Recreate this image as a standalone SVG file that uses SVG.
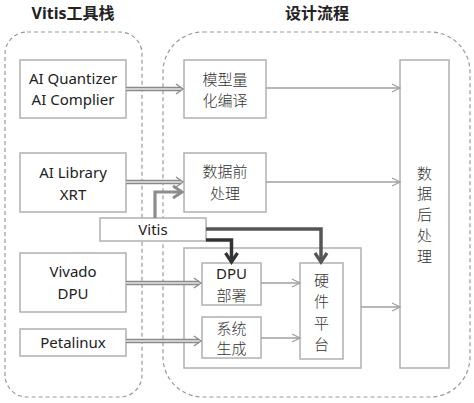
<svg xmlns="http://www.w3.org/2000/svg" width="474" height="403" viewBox="0 0 474 403">
<defs>
<style>
.bg{fill:#fff}
.dash{fill:none;stroke:#9a9a9a;stroke-width:1.2;stroke-dasharray:4 3}
.box{fill:#fff;stroke:#b0b0b0;stroke-width:1.5}
.en{font-family:"Noto Sans","Liberation Sans",sans-serif;font-size:15px;fill:#222;text-anchor:middle}
.cn{font-family:"Noto Sans CJK SC","Noto Sans",sans-serif;font-size:15px;fill:#333;text-anchor:middle;font-weight:300}
.title{font-family:"Noto Sans","Noto Sans CJK SC",sans-serif;font-size:16px;font-weight:bold;fill:#222;text-anchor:middle}
.thin{fill:none;stroke:#a0a0a0;stroke-width:1.3;marker-end:url(#chev)}
.dblo{fill:none;stroke:#8a8a8a;stroke-width:4.5}
.dbli{fill:none;stroke:#e6e6e6;stroke-width:1.6}
.gray{fill:none;stroke:#8c8c8c;stroke-width:3.2;marker-end:url(#chevg)}
.dark{fill:none;stroke:#333;stroke-width:3.5;marker-end:url(#chevd)}
.dark2{fill:none;stroke:#555;stroke-width:3.5;marker-end:url(#chevd2)}
</style>
<marker id="chev" markerUnits="userSpaceOnUse" markerWidth="12" markerHeight="12" refX="9" refY="5" orient="auto">
<path d="M1,1 L9,5 L1,9" fill="none" stroke="#a0a0a0" stroke-width="1.3"/>
</marker>
<marker id="chevg" markerUnits="userSpaceOnUse" markerWidth="16" markerHeight="16" refX="12" refY="8" orient="auto">
<path d="M3,2 L12,8 L3,14" fill="none" stroke="#8c8c8c" stroke-width="3"/>
</marker>
<marker id="chevd" markerUnits="userSpaceOnUse" markerWidth="16" markerHeight="16" refX="12" refY="8" orient="auto">
<path d="M3,2 L12,8 L3,14" fill="none" stroke="#333" stroke-width="3.2"/>
</marker>
<marker id="chevd2" markerUnits="userSpaceOnUse" markerWidth="16" markerHeight="16" refX="12" refY="8" orient="auto">
<path d="M3,2 L12,8 L3,14" fill="none" stroke="#555" stroke-width="3.2"/>
</marker>
</defs>
<rect class="bg" x="0" y="0" width="474" height="403"/>

<g id="titles">
<text class="title" x="73" y="19">Vitis工具栈</text>
<text class="title" x="317" y="19">设计流程</text>
</g>

<g id="groups">
<rect class="dash" x="5" y="32" width="137" height="365" rx="22"/>
<rect class="dash" x="163" y="32" width="307" height="365" rx="40"/>
</g>

<g id="node-aiq">
<rect class="box" x="20" y="60" width="106" height="58"/>
<text class="en" x="73" y="84">AI Quantizer</text>
<text class="en" x="73" y="105">AI Complier</text>
</g>
<g id="node-ailib">
<rect class="box" x="20" y="153" width="106" height="59"/>
<text class="en" x="73" y="178">AI Library</text>
<text class="en" x="73" y="200">XRT</text>
</g>
<g id="node-vivado">
<rect class="box" x="20" y="253" width="106" height="59"/>
<text class="en" x="73" y="277">Vivado</text>
<text class="en" x="73" y="299">DPU</text>
</g>
<g id="node-petalinux">
<rect class="box" x="20" y="329" width="106" height="27"/>
<text class="en" x="73" y="348">Petalinux</text>
</g>

<g id="node-model">
<rect class="box" x="184" y="60" width="82" height="58"/>
<text class="cn" x="225" y="85">模型量</text>
<text class="cn" x="225" y="106">化编译</text>
</g>
<g id="node-pre">
<rect class="box" x="184" y="153" width="82" height="59"/>
<text class="cn" x="225" y="177">数据前</text>
<text class="cn" x="225" y="199">处理</text>
</g>
<g id="node-post">
<rect class="box" x="400" y="60" width="49" height="308"/>
<text class="cn" x="424.5" y="179">数</text>
<text class="cn" x="424.5" y="199">据</text>
<text class="cn" x="424.5" y="220">后</text>
<text class="cn" x="424.5" y="241">处</text>
<text class="cn" x="424.5" y="262">理</text>
</g>
<g id="node-hwgroup">
<rect class="box" x="184" y="248" width="177" height="120"/>
</g>
<g id="node-dpu">
<rect class="box" x="202" y="263" width="59" height="42"/>
<text class="en" x="231.5" y="279">DPU</text>
<text class="cn" x="231.5" y="301">部署</text>
</g>
<g id="node-sys">
<rect class="box" x="202" y="317" width="59" height="41"/>
<text class="cn" x="231.5" y="334">系统</text>
<text class="cn" x="231.5" y="354">生成</text>
</g>
<g id="node-hw">
<rect class="box" x="300" y="263" width="43" height="96"/>
<text class="cn" x="321.5" y="286">硬</text>
<text class="cn" x="321.5" y="307">件</text>
<text class="cn" x="321.5" y="329">平</text>
<text class="cn" x="321.5" y="350">台</text>
</g>
<g id="node-vitis">
<rect class="box" x="100" y="218" width="106" height="23"/>
<text class="en" x="153" y="235">Vitis</text>
</g>

<g id="connectors">
<g>
<path class="dblo" d="M126,89 H181"/><path class="dbli" d="M126,89 H181"/>
<path d="M176,84 L183,89 L176,94" fill="none" stroke="#8a8a8a" stroke-width="1.3"/>
<path class="dblo" d="M126,182 H181"/><path class="dbli" d="M126,182 H181"/>
<path d="M176,177 L183,182 L176,187" fill="none" stroke="#8a8a8a" stroke-width="1.3"/>
<path class="dblo" d="M126,283 H199"/><path class="dbli" d="M126,283 H199"/>
<path d="M194,278 L201,283 L194,288" fill="none" stroke="#8a8a8a" stroke-width="1.3"/>
<path class="dblo" d="M126,341 H199"/><path class="dbli" d="M126,341 H199"/>
<path d="M194,336 L201,341 L194,346" fill="none" stroke="#8a8a8a" stroke-width="1.3"/>
</g>
<path class="thin" d="M266,88 H400"/>
<path class="thin" d="M266,182 H400"/>
<path class="thin" d="M361,307 H400"/>
<path class="thin" d="M261,283 H300"/>
<path class="thin" d="M261,338 H300"/>
<path class="gray" d="M155,218 V192 H182"/>
<path class="dark2" d="M206,229 H321 V262"/>
<path class="dark" d="M206,240 H231.5 V262"/>
</g>
</svg>
